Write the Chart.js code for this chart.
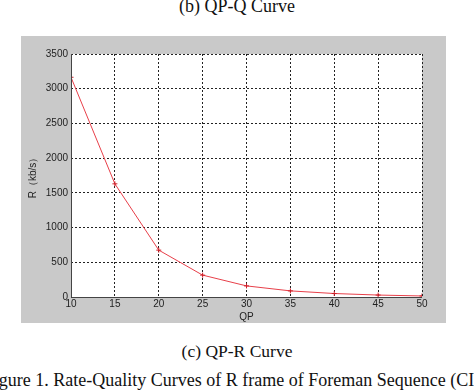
<!DOCTYPE html>
<html>
<head>
<meta charset="utf-8">
<script src="https://cdn.jsdelivr.net/npm/chart.js@4/dist/chart.umd.min.js"></script>
<style>
  body { margin: 0; background: #fff; width: 474px; height: 390px; overflow: hidden; position: relative; }
  .cap { position: absolute; left: -150px; width: 774px; text-align: center; white-space: nowrap;
         font-family: "Liberation Serif", "Times New Roman", serif; font-size: 18px; color: #111; }
  #panel { position: absolute; left: 21px; top: 36px; width: 425px; height: 287px; background: #c9c9c9; }
</style>
</head>
<body>
<div class="cap" style="top:-4px">(b) QP-Q Curve</div>
<div id="panel"><canvas id="chart"></canvas></div>
<div class="cap" style="top:341px;font-size:17.5px">(c) QP-R Curve</div>
<div class="cap" style="top:370px">Figure 1. Rate-Quality Curves of R frame of Foreman Sequence (CIF)</div>
<script>
// QP против битрейта
const qp = [10, 15, 20, 25, 30, 35, 40, 45, 50];
const rate = [3165, 1630, 675, 315, 160, 88, 50, 28, 15];
const xTicks = [10, 15, 20, 25, 30, 35, 40, 45, 50];
const yTicks = [0, 500, 1000, 1500, 2000, 2500, 3000, 3500];

const tickFont = { family: '"Liberation Sans", Arial, sans-serif', size: 10 };

// белый фон области графика + сплошные оси слева и снизу
const plotBg = {
    id: 'plotBg',
    beforeDraw(chart) {
        const a = chart.chartArea;
        chart.ctx.save();
        chart.ctx.fillStyle = '#fff';
        chart.ctx.fillRect(a.left, a.top, a.right - a.left, a.bottom - a.top);
        chart.ctx.restore();
    },
    afterDraw(chart) {
        const a = chart.chartArea, ctx = chart.ctx;
        ctx.save();
        ctx.strokeStyle = '#444';
        ctx.lineWidth = 1;
        ctx.setLineDash([]);
        ctx.beginPath();
        ctx.moveTo(Math.round(a.left) + 0.5, a.top);
        ctx.lineTo(Math.round(a.left) + 0.5, Math.round(a.bottom) + 0.5);
        ctx.lineTo(a.right, Math.round(a.bottom) + 0.5);
        ctx.stroke();
        ctx.restore();
    }
};

new Chart(document.getElementById('chart'), {
    type: 'scatter',
    data: {
        datasets: [{
            data: qp.map((q, i) => ({ x: q, y: rate[i] })),
            showLine: true,
            borderColor: '#e8404a',
            borderWidth: 1,
            pointStyle: 'cross',
            pointRadius: 2.5,
            pointBorderColor: '#d0202a',
            pointBorderWidth: 1
        }]
    },
    options: {
        responsive: true,
        maintainAspectRatio: false,
        animation: false,
        layout: { padding: { left: 0, top: 18, right: 24, bottom: 0 } },
        plugins: { legend: { display: false }, tooltip: { enabled: false } },
        scales: {
            x: {
                type: 'linear',
                min: 10, max: 50,
                afterBuildTicks: s => { s.ticks = xTicks.map(v => ({ value: v })); },
                afterFit: s => { s.height = 26; },
                ticks: { font: tickFont, color: '#222', padding: 1, maxRotation: 0, callback: v => String(v) },
                grid: { color: '#222', lineWidth: 1, drawTicks: false },
                border: { display: false, dash: [2, 2] },
                title: { display: true, text: 'QP', font: tickFont, color: '#222', padding: 0 }
            },
            y: {
                min: 0, max: 3500,
                afterBuildTicks: s => { s.ticks = yTicks.map(v => ({ value: v })); },
                afterFit: s => { s.width = 50; },
                ticks: { font: tickFont, color: '#222', padding: 3, callback: v => String(v) },
                grid: { color: '#222', lineWidth: 1, drawTicks: false },
                border: { display: false, dash: [2, 2] },
                title: { display: true, text: 'R（kb/s）', font: tickFont, color: '#222', padding: { top: 6 } }
            }
        }
    },
    plugins: [plotBg]
});
</script>
</body>
</html>
